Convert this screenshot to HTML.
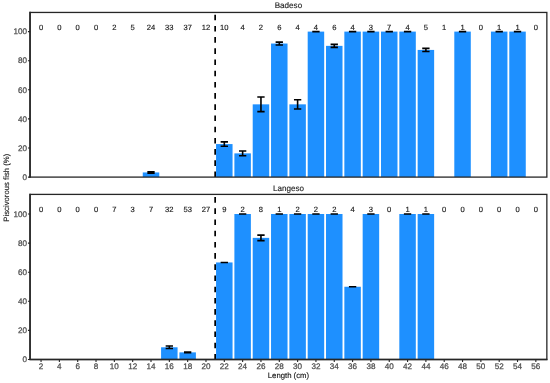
<!DOCTYPE html>
<html lang="da"><head><meta charset="utf-8"><title>Piscivorous fish by length</title>
<style>html,body{margin:0;padding:0;background:#fff}svg{display:block}text{text-rendering:geometricPrecision;font-family:"Liberation Sans",Arial,Helvetica,sans-serif}.t{font-size:8.1px;fill:#4d4d4d;stroke:#4d4d4d;stroke-width:.25}.c{font-size:7.6px;fill:#1a1a1a;stroke:#1a1a1a;stroke-width:.15;text-anchor:middle}.s{font-size:8.1px;fill:#1a1a1a;stroke:#1a1a1a;stroke-width:.12;text-anchor:middle}.a{font-size:7.75px;fill:#111;stroke:#111;stroke-width:.12;text-anchor:middle}</style></head><body>
<svg width="550" height="383" viewBox="0 0 550 383">
<rect width="550" height="383" fill="#fff"/>
<g>
<text class="s" x="288.45" y="8.25">Badeso</text>
<rect x="142.76" y="172.44" width="16.49" height="4.66" fill="#1e90ff"/>
<rect x="216.06" y="144.07" width="16.49" height="33.03" fill="#1e90ff"/>
<rect x="234.39" y="153.38" width="16.49" height="23.72" fill="#1e90ff"/>
<rect x="252.71" y="104.35" width="16.49" height="72.75" fill="#1e90ff"/>
<rect x="271.04" y="43.53" width="16.49" height="133.57" fill="#1e90ff"/>
<rect x="289.37" y="104.35" width="16.49" height="72.75" fill="#1e90ff"/>
<rect x="307.69" y="31.60" width="16.49" height="145.50" fill="#1e90ff"/>
<rect x="326.02" y="45.86" width="16.49" height="131.24" fill="#1e90ff"/>
<rect x="344.35" y="31.60" width="16.49" height="145.50" fill="#1e90ff"/>
<rect x="362.67" y="31.60" width="16.49" height="145.50" fill="#1e90ff"/>
<rect x="381.00" y="31.60" width="16.49" height="145.50" fill="#1e90ff"/>
<rect x="399.32" y="31.60" width="16.49" height="145.50" fill="#1e90ff"/>
<rect x="417.65" y="49.93" width="16.49" height="127.17" fill="#1e90ff"/>
<rect x="454.30" y="31.60" width="16.49" height="145.50" fill="#1e90ff"/>
<rect x="490.95" y="31.60" width="16.49" height="145.50" fill="#1e90ff"/>
<rect x="509.28" y="31.60" width="16.49" height="145.50" fill="#1e90ff"/>
<path d="M147.34 171.72H154.67M147.34 173.17H154.67M151.00 171.72V173.17M220.64 141.89H227.97M220.64 146.25H227.97M224.31 141.89V146.25M238.97 151.06H246.30M238.97 155.71H246.30M242.63 151.06V155.71M257.30 97.07H264.63M257.30 111.62H264.63M260.96 97.07V111.62M275.62 42.08H282.95M275.62 44.99H282.95M279.29 42.08V44.99M293.95 99.69H301.28M293.95 109.01H301.28M297.61 99.69V109.01M312.27 31.60H319.60M312.27 31.60H319.60M315.94 31.60V31.60M330.60 44.33H337.93M330.60 47.39H337.93M334.27 44.33V47.39M348.93 31.60H356.26M348.93 31.60H356.26M352.59 31.60V31.60M367.25 31.60H374.58M367.25 31.60H374.58M370.92 31.60V31.60M385.58 31.60H392.91M385.58 31.60H392.91M389.24 31.60V31.60M403.91 31.60H411.24M403.91 31.60H411.24M407.57 31.60V31.60M422.23 48.33H429.56M422.23 51.53H429.56M425.90 48.33V51.53M458.88 31.60H466.21M458.88 31.60H466.21M462.55 31.60V31.60M495.54 31.60H502.87M495.54 31.60H502.87M499.20 31.60V31.60M513.86 31.60H521.19M513.86 31.60H521.19M517.53 31.60V31.60" stroke="#000" stroke-width="1.6" fill="none"/>
<line x1="215.15" y1="177.10" x2="215.15" y2="12.45" stroke="#000" stroke-width="1.7" stroke-dasharray="5.6 5.6"/>
<text class="c" x="41.05" y="29.98">0</text>
<text class="c" x="59.37" y="29.98">0</text>
<text class="c" x="77.70" y="29.98">0</text>
<text class="c" x="96.02" y="29.98">0</text>
<text class="c" x="114.35" y="29.98">2</text>
<text class="c" x="132.68" y="29.98">5</text>
<text class="c" x="151.00" y="29.98">24</text>
<text class="c" x="169.33" y="29.98">33</text>
<text class="c" x="187.66" y="29.98">37</text>
<text class="c" x="205.98" y="29.98">12</text>
<text class="c" x="224.31" y="29.98">10</text>
<text class="c" x="242.63" y="29.98">4</text>
<text class="c" x="260.96" y="29.98">2</text>
<text class="c" x="279.29" y="29.98">6</text>
<text class="c" x="297.61" y="29.98">4</text>
<text class="c" x="315.94" y="29.98">4</text>
<text class="c" x="334.27" y="29.98">6</text>
<text class="c" x="352.59" y="29.98">4</text>
<text class="c" x="370.92" y="29.98">3</text>
<text class="c" x="389.24" y="29.98">7</text>
<text class="c" x="407.57" y="29.98">4</text>
<text class="c" x="425.90" y="29.98">5</text>
<text class="c" x="444.22" y="29.98">1</text>
<text class="c" x="462.55" y="29.98">1</text>
<text class="c" x="480.88" y="29.98">0</text>
<text class="c" x="499.20" y="29.98">1</text>
<text class="c" x="517.53" y="29.98">1</text>
<text class="c" x="535.85" y="29.98">0</text>
<rect x="30.05" y="12.45" width="516.80" height="164.65" fill="none" stroke="#262626" stroke-width="1.3"/>
<line x1="30.05" y1="11.85" x2="30.05" y2="177.70" stroke="#262626" stroke-width="1.55"/>
<text class="t" text-anchor="end" x="27.05" y="179.80">0</text>
<text class="t" text-anchor="end" x="27.05" y="150.70">20</text>
<text class="t" text-anchor="end" x="27.05" y="121.60">40</text>
<text class="t" text-anchor="end" x="27.05" y="92.50">60</text>
<text class="t" text-anchor="end" x="27.05" y="63.40">80</text>
<text class="t" text-anchor="end" x="27.05" y="34.30">100</text>
<path d="M27.95 177.10H30.05M27.95 148.00H30.05M27.95 118.90H30.05M27.95 89.80H30.05M27.95 60.70H30.05M27.95 31.60H30.05" stroke="#262626" stroke-width="1.1" fill="none"/>
</g>
<g>
<text class="s" x="288.45" y="190.90">Langeso</text>
<rect x="161.08" y="347.28" width="16.49" height="12.22" fill="#1e90ff"/>
<rect x="179.41" y="352.37" width="16.49" height="7.13" fill="#1e90ff"/>
<rect x="216.06" y="262.45" width="16.49" height="97.05" fill="#1e90ff"/>
<rect x="234.39" y="214.00" width="16.49" height="145.50" fill="#1e90ff"/>
<rect x="252.71" y="237.86" width="16.49" height="121.64" fill="#1e90ff"/>
<rect x="271.04" y="214.00" width="16.49" height="145.50" fill="#1e90ff"/>
<rect x="289.37" y="214.00" width="16.49" height="145.50" fill="#1e90ff"/>
<rect x="307.69" y="214.00" width="16.49" height="145.50" fill="#1e90ff"/>
<rect x="326.02" y="214.00" width="16.49" height="145.50" fill="#1e90ff"/>
<rect x="344.35" y="286.75" width="16.49" height="72.75" fill="#1e90ff"/>
<rect x="362.67" y="214.00" width="16.49" height="145.50" fill="#1e90ff"/>
<rect x="399.32" y="214.00" width="16.49" height="145.50" fill="#1e90ff"/>
<rect x="417.65" y="214.00" width="16.49" height="145.50" fill="#1e90ff"/>
<path d="M165.66 346.04H172.99M165.66 348.51H172.99M169.33 346.04V348.51M183.99 352.15H191.32M183.99 352.59H191.32M187.66 352.15V352.59M220.64 262.45H227.97M220.64 262.45H227.97M224.31 262.45V262.45M238.97 214.00H246.30M238.97 214.00H246.30M242.63 214.00V214.00M257.30 235.10H264.63M257.30 240.63H264.63M260.96 235.10V240.63M275.62 214.00H282.95M275.62 214.00H282.95M279.29 214.00V214.00M293.95 214.00H301.28M293.95 214.00H301.28M297.61 214.00V214.00M312.27 214.00H319.60M312.27 214.00H319.60M315.94 214.00V214.00M330.60 214.00H337.93M330.60 214.00H337.93M334.27 214.00V214.00M348.93 286.75H356.26M348.93 286.75H356.26M352.59 286.75V286.75M367.25 214.00H374.58M367.25 214.00H374.58M370.92 214.00V214.00M403.91 214.00H411.24M403.91 214.00H411.24M407.57 214.00V214.00M422.23 214.00H429.56M422.23 214.00H429.56M425.90 214.00V214.00" stroke="#000" stroke-width="1.6" fill="none"/>
<line x1="215.15" y1="359.50" x2="215.15" y2="194.40" stroke="#000" stroke-width="1.7" stroke-dasharray="5.6 5.6"/>
<text class="c" x="41.05" y="212.38">0</text>
<text class="c" x="59.37" y="212.38">0</text>
<text class="c" x="77.70" y="212.38">0</text>
<text class="c" x="96.02" y="212.38">0</text>
<text class="c" x="114.35" y="212.38">7</text>
<text class="c" x="132.68" y="212.38">3</text>
<text class="c" x="151.00" y="212.38">7</text>
<text class="c" x="169.33" y="212.38">32</text>
<text class="c" x="187.66" y="212.38">53</text>
<text class="c" x="205.98" y="212.38">27</text>
<text class="c" x="224.31" y="212.38">9</text>
<text class="c" x="242.63" y="212.38">2</text>
<text class="c" x="260.96" y="212.38">8</text>
<text class="c" x="279.29" y="212.38">1</text>
<text class="c" x="297.61" y="212.38">2</text>
<text class="c" x="315.94" y="212.38">2</text>
<text class="c" x="334.27" y="212.38">2</text>
<text class="c" x="352.59" y="212.38">4</text>
<text class="c" x="370.92" y="212.38">3</text>
<text class="c" x="389.24" y="212.38">0</text>
<text class="c" x="407.57" y="212.38">1</text>
<text class="c" x="425.90" y="212.38">1</text>
<text class="c" x="444.22" y="212.38">0</text>
<text class="c" x="462.55" y="212.38">0</text>
<text class="c" x="480.88" y="212.38">0</text>
<text class="c" x="499.20" y="212.38">0</text>
<text class="c" x="517.53" y="212.38">0</text>
<text class="c" x="535.85" y="212.38">0</text>
<rect x="30.05" y="194.40" width="516.80" height="165.10" fill="none" stroke="#262626" stroke-width="1.3"/>
<line x1="30.05" y1="193.80" x2="30.05" y2="360.10" stroke="#262626" stroke-width="1.55"/>
<text class="t" text-anchor="end" x="27.05" y="362.20">0</text>
<text class="t" text-anchor="end" x="27.05" y="333.10">20</text>
<text class="t" text-anchor="end" x="27.05" y="304.00">40</text>
<text class="t" text-anchor="end" x="27.05" y="274.90">60</text>
<text class="t" text-anchor="end" x="27.05" y="245.80">80</text>
<text class="t" text-anchor="end" x="27.05" y="216.70">100</text>
<path d="M27.95 359.50H30.05M27.95 330.40H30.05M27.95 301.30H30.05M27.95 272.20H30.05M27.95 243.10H30.05M27.95 214.00H30.05" stroke="#262626" stroke-width="1.1" fill="none"/>
</g>
<text class="t" text-anchor="middle" x="41.05" y="368.50">2</text>
<text class="t" text-anchor="middle" x="59.37" y="368.50">4</text>
<text class="t" text-anchor="middle" x="77.70" y="368.50">6</text>
<text class="t" text-anchor="middle" x="96.02" y="368.50">8</text>
<text class="t" text-anchor="middle" x="114.35" y="368.50">10</text>
<text class="t" text-anchor="middle" x="132.68" y="368.50">12</text>
<text class="t" text-anchor="middle" x="151.00" y="368.50">14</text>
<text class="t" text-anchor="middle" x="169.33" y="368.50">16</text>
<text class="t" text-anchor="middle" x="187.66" y="368.50">18</text>
<text class="t" text-anchor="middle" x="205.98" y="368.50">20</text>
<text class="t" text-anchor="middle" x="224.31" y="368.50">22</text>
<text class="t" text-anchor="middle" x="242.63" y="368.50">24</text>
<text class="t" text-anchor="middle" x="260.96" y="368.50">26</text>
<text class="t" text-anchor="middle" x="279.29" y="368.50">28</text>
<text class="t" text-anchor="middle" x="297.61" y="368.50">30</text>
<text class="t" text-anchor="middle" x="315.94" y="368.50">32</text>
<text class="t" text-anchor="middle" x="334.27" y="368.50">34</text>
<text class="t" text-anchor="middle" x="352.59" y="368.50">36</text>
<text class="t" text-anchor="middle" x="370.92" y="368.50">38</text>
<text class="t" text-anchor="middle" x="389.24" y="368.50">40</text>
<text class="t" text-anchor="middle" x="407.57" y="368.50">42</text>
<text class="t" text-anchor="middle" x="425.90" y="368.50">44</text>
<text class="t" text-anchor="middle" x="444.22" y="368.50">46</text>
<text class="t" text-anchor="middle" x="462.55" y="368.50">48</text>
<text class="t" text-anchor="middle" x="480.88" y="368.50">50</text>
<text class="t" text-anchor="middle" x="499.20" y="368.50">52</text>
<text class="t" text-anchor="middle" x="517.53" y="368.50">54</text>
<text class="t" text-anchor="middle" x="535.85" y="368.50">56</text>
<path d="M41.05 359.50V361.90M59.37 359.50V361.90M77.70 359.50V361.90M96.02 359.50V361.90M114.35 359.50V361.90M132.68 359.50V361.90M151.00 359.50V361.90M169.33 359.50V361.90M187.66 359.50V361.90M205.98 359.50V361.90M224.31 359.50V361.90M242.63 359.50V361.90M260.96 359.50V361.90M279.29 359.50V361.90M297.61 359.50V361.90M315.94 359.50V361.90M334.27 359.50V361.90M352.59 359.50V361.90M370.92 359.50V361.90M389.24 359.50V361.90M407.57 359.50V361.90M425.90 359.50V361.90M444.22 359.50V361.90M462.55 359.50V361.90M480.88 359.50V361.90M499.20 359.50V361.90M517.53 359.50V361.90M535.85 359.50V361.90" stroke="#262626" stroke-width="1.1" fill="none"/>
<line x1="29.45" y1="359.50" x2="547.45" y2="359.50" stroke="#262626" stroke-width="1.5"/>
<text class="a" x="288.45" y="378.3">Length (cm)</text>
<text class="a" transform="translate(8.5 187.7) rotate(-90)">Piscivorous fish (%)</text>
</svg></body></html>
